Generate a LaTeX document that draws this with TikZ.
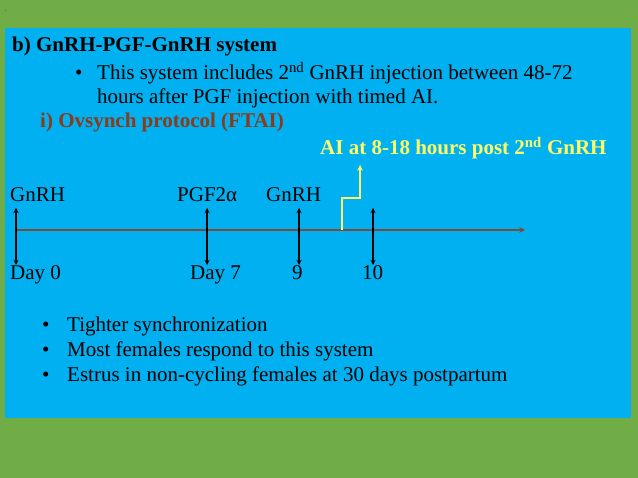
\documentclass[tikz,border=0pt]{standalone}
\usepackage{fontspec}
\setmainfont{Liberation Serif}
\begin{document}
\begin{tikzpicture}[x=1pt,y=-1pt,
  txt/.style={anchor=base west,inner sep=0pt,font=\fontsize{21}{24}\selectfont},
  bt/.style={txt,font=\fontsize{21}{24}\selectfont\bfseries},
  tick/.style={<->,>=stealth,line width=1.3pt,black}]
\definecolor{bg}{HTML}{70AD47}
\definecolor{blu}{HTML}{00B0F0}
\definecolor{brn}{HTML}{8B3A1A}
\definecolor{yel}{HTML}{FFFF66}
\definecolor{ln}{HTML}{7A4A3A}
\fill[bg] (0,0) rectangle (638,478);
\useasboundingbox (0,0) rectangle (638,478);
\fill[blu] (5,28) rectangle (631,418);
\node[txt,font=\tiny] (dot) at (5,12) {.};
\node[bt] (t1) at (12,52) {b) GnRH-PGF-GnRH system};
\node[txt] (b1) at (75,80) {•};
\node[txt] (l1) at (97,80) {This system includes 2\textsuperscript{nd} GnRH injection between 48-72};
\node[txt] (l2) at (97,104) {hours after PGF injection with timed AI.};
\node[bt,text=brn] (t2) at (40,128) {i) Ovsynch protocol (FTAI)};
\node[bt,text=yel] (ai) at (320,155) {AI at 8-18 hours post 2\textsuperscript{nd} GnRH};
\node[txt] (g1) at (10,202) {GnRH};
\node[txt] (p) at (177,202) {PGF2α};
\node[txt] (g2) at (266,202) {GnRH};
\node[txt] (d0) at (10,280) {Day 0};
\node[txt] (d7) at (190,280) {Day 7};
\node[txt] (d9) at (292,280) {9};
\node[txt] (d10) at (362,280) {10};
\coordinate (s) at (16,230);
\coordinate (e) at (525,230);
\draw[->,>=stealth,line width=1.5pt,ln] (s) -- (e);
\foreach \x in {16,207,299,373}{\draw[tick] (\x,208) -- (\x,265);}
\coordinate (y0) at (342,230);
\coordinate (y1) at (360,165);
\draw[->,>=stealth,line width=1.5pt,yel] (y0) -- (342,198) -- (360,198) -- (y1);
\foreach \y/\t in {332/Tighter synchronization,357/Most females respond to this system,382/Estrus in non-cycling females at 30 days postpartum}{
  \node[txt] at (42,\y) {•};
  \node[txt] at (67,\y) {\t};}
\end{tikzpicture}
\end{document}
